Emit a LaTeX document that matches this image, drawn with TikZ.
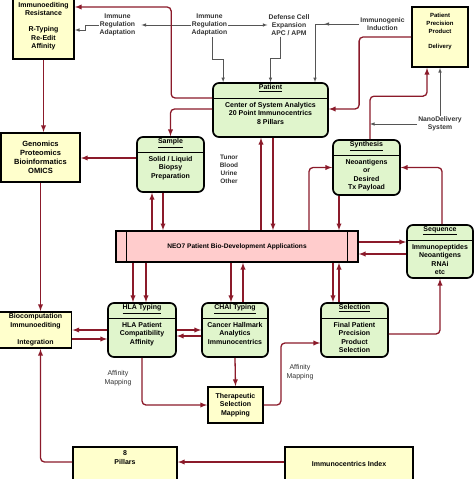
\documentclass[tikz,border=0pt]{standalone}
\usepackage{fontspec}
\setmainfont{Liberation Sans}
\usetikzlibrary{arrows,decorations.markings}

\definecolor{boxyellow}{HTML}{FFFFCC}
\definecolor{boxgreen}{HTML}{E0F5CC}
\definecolor{boxpink}{HTML}{FFCCCC}
\definecolor{darkred}{HTML}{8B1A2A}
\definecolor{linegray}{HTML}{555555}
\definecolor{textgray}{HTML}{333333}

\tikzset{
  ybox/.style={draw, line width=1.8pt, fill=boxyellow, align=center, inner sep=1pt, font=\bfseries\fontsize{7}{8.5}\selectfont},
  ytext/.style={anchor=center, align=center, inner sep=0pt, font=\bfseries\fontsize{7}{8.5}\selectfont},
  gbox/.style={draw, line width=1.7pt, fill=boxgreen, rounded corners=6pt,
    path picture={\draw[line width=0.6pt] ([yshift=-15pt]path picture bounding box.north west) -- ([yshift=-15pt]path picture bounding box.north east);}},
  boxhead/.style={anchor=north, yshift=-2.5pt, inner sep=0pt, font=\bfseries\fontsize{7}{8.5}\selectfont},
  boxbody/.style={anchor=north, yshift=-20pt, inner sep=0pt, align=center, font=\bfseries\fontsize{7}{8.5}\selectfont},
  glabel/.style={text=textgray, align=center, inner sep=1pt, font=\bfseries\fontsize{6.8}{8}\selectfont},
  alabel/.style={text=textgray, align=center, inner sep=1pt, font=\fontsize{7}{9}\selectfont},
  garrow/.style={-latex, draw=linegray, line width=0.6pt},
  rarrow/.style={-latex, draw=darkred, line width=1.3pt, rounded corners=4pt}
}

\begin{document}
\begin{tikzpicture}[x=1pt, y=-1pt]

\useasboundingbox (0,0) rectangle (474,479);

\node[ybox, minimum width=61pt, minimum height=66pt] (resist) at (43.5,26) {Immunoediting\\Resistance\\[7.5pt]R-Typing\\Re-Edit\\Affinity};
\node[ybox, minimum width=56pt, minimum height=60pt, label={[ytext, yshift=5.5pt, font=\bfseries\fontsize{6}{8}\selectfont]center:{Patient\\Precision\\Product\\[7pt]Delivery}}] (ppd) at (440,37) {};
\node[ybox, minimum width=79pt, minimum height=49pt, font=\bfseries\fontsize{7.5}{9}\selectfont] (omics) at (40.5,157.5) {Genomics\\Proteomics\\Bioinformatics\\OMICS};
\node[ybox, minimum width=72pt, minimum height=36pt, font=\bfseries\fontsize{7}{9}\selectfont] (biocomp) at (35.5,330) {Biocomputation\\Immunoediting\\[8pt]Integration};
\node[ybox, minimum width=55pt, minimum height=36pt] (therapy) at (235.5,405) {Therapeutic\\Selection\\Mapping};
\node[ybox, minimum width=104pt, minimum height=34pt, label={[ytext, yshift=6.5pt]center:{8\\Pillars}}] (pillars) at (125,464) {};
\node[ybox, minimum width=128pt, minimum height=34pt] (index) at (349,464) {Immunocentrics Index};

\node[gbox, minimum width=115pt, minimum height=54pt, label={[boxhead]north:{\underline{Patient}}}, label={[boxbody]north:{Center of System Analytics\\20 Point Immunocentrics\\8 Pillars}}] (patient) at (270.5,110) {};
\node[gbox, minimum width=67pt, minimum height=55pt, label={[boxhead]north:{\underline{Sample}}}, label={[boxbody]north:{Solid / Liquid\\Biopsy\\Preparation}}] (sample) at (170.5,164.5) {};
\node[gbox, minimum width=67pt, minimum height=55pt, label={[boxhead]north:{\underline{Synthesis}}}, label={[boxbody]north:{Neoantigens\\or\\Desired\\Tx Payload}}] (synthesis) at (366.5,167.5) {};
\node[gbox, minimum width=66pt, minimum height=53pt, label={[boxhead]north:{\underline{Sequence}}}, label={[boxbody]north:{Immunopeptides\\Neoantigens\\RNAi\\etc}}] (sequence) at (440,251.5) {};
\node[gbox, minimum width=68pt, minimum height=54pt, label={[boxhead]north:{\underline{HLA Typing}}}, label={[boxbody]north:{HLA Patient\\Compatibility\\Affinity}}] (hla) at (142,330) {};
\node[gbox, minimum width=66pt, minimum height=54pt, label={[boxhead]north:{\underline{CHAI Typing}}}, label={[boxbody]north:{Cancer Hallmark\\Analytics\\Immunocentrics}}] (chai) at (235,330) {};
\node[gbox, minimum width=67pt, minimum height=54pt, label={[boxhead]north:{\underline{Selection}}}, label={[boxbody]north:{Final Patient\\Precision\\Product\\Selection}}] (selection) at (354.5,330) {};

\node[draw, line width=1.6pt, fill=boxpink, minimum width=242pt, minimum height=31pt, font=\bfseries\fontsize{6.6}{8}\selectfont] (neo) at (237,246.5) {NEO7 Patient Bio-Development Applications};
\draw[line width=1.3pt] ([xshift=11pt]neo.north west) -- ([xshift=11pt]neo.south west);
\draw[line width=1.3pt] ([xshift=-11pt]neo.north east) -- ([xshift=-11pt]neo.south east);

\node[glabel] (ira1) at (117.5,25) {Immune\\Regulation\\Adaptation};
\node[glabel] (ira2) at (209.5,25) {Immune\\Regulation\\Adaptation};
\node[glabel] (defcell) at (289,25) {Defense Cell\\Expansion\\APC / APM};
\node[glabel] (imgind) at (382.5,24) {Immunogenic\\Induction};
\node[glabel] (nano) at (440,124) {NanoDelivery\\System};
\node[glabel, font=\bfseries\fontsize{6.5}{8}\selectfont] (tissue) at (229,169) {Tunor\\Blood\\Urine\\Other};
\node[alabel] (aff1) at (118,378.5) {Affinity\\Mapping};
\node[alabel] (aff2) at (300,372.5) {Affinity\\Mapping};

\draw[garrow, shorten >=5pt] (ira2.west) -- (ira1.east);
\draw[garrow] (ira2.east) -- (defcell.west);
\draw[garrow] (ira1.west) -- ++(-13,0) |- ([yshift=-4pt]resist.east);
\draw[garrow] ([xshift=2.5pt]ira2.south) -- ++(0,22) -| ([xshift=11pt]patient.north west);
\draw[garrow] ([xshift=-9pt]defcell.south) -- ++(0,22) -| (patient.north);
\draw[garrow, postaction={decorate}, decoration={markings, mark=at position 0.34 with {\arrow{latex}}}] (imgind.west) -| ([xshift=44.5pt]patient.north);
\draw[garrow] (nano.north) -- (ppd.south);
\draw[garrow] (nano.west) -- ([xshift=3.5pt]synthesis.north |- nano.west);

\draw[rarrow] ([yshift=12pt]patient.west) -- ++(-41,0) |- ([yshift=19pt]resist.east);
\draw[rarrow] ([yshift=1pt]patient.west) -| (sample.north);
\draw[rarrow] (resist.south) -- (resist.south |- omics.north);
\draw[rarrow] ([yshift=6.5pt]sample.west) -- ([yshift=6.5pt]sample.west -| omics.east);
\draw[rarrow] (omics.south) -- (omics.south |- biocomp.north);
\draw[rarrow] ([xshift=-18.5pt]sample.south |- neo.north) -- ([xshift=-18.5pt]sample.south);
\draw[rarrow] ([xshift=-7.5pt]sample.south) -- ([xshift=-7.5pt]sample.south |- neo.north);
\draw[rarrow] ([xshift=-9.5pt]patient.south |- neo.north) -- ([xshift=-9.5pt]patient.south);
\draw[rarrow] ([xshift=2.5pt]patient.south) -- ([xshift=2.5pt]patient.south |- neo.north);
\draw[rarrow] ([xshift=72pt]neo.north) |- (synthesis.west);
\draw[rarrow] ([xshift=-27.5pt]synthesis.south) -- ([xshift=-27.5pt]synthesis.south |- neo.north);
\draw[rarrow] ([xshift=2pt]sequence.north) |- (synthesis.east);
\draw[rarrow] ([yshift=4.5pt]neo.east) -- ([yshift=4.5pt]neo.east -| sequence.west);
\draw[rarrow] ([yshift=-7.5pt]neo.east -| sequence.west) -- ([yshift=-7.5pt]neo.east);
\draw[rarrow] ([xshift=3.5pt]synthesis.north) -- ++(0,-43) -| ([xshift=-13pt]ppd.south);
\draw[rarrow] (ppd.west) -- ++(-52,0) |- ([yshift=1pt]patient.east);
\draw[rarrow] ([xshift=-9pt]hla.north |- neo.south) -- ([xshift=-9pt]hla.north);
\draw[rarrow] ([xshift=4pt]neo.south -| hla.north) -- ([xshift=4pt]hla.north);
\draw[rarrow] ([xshift=-4pt]neo.south -| chai.north) -- ([xshift=-4pt]chai.north);
\draw[rarrow] ([xshift=8pt]chai.north) -- ([xshift=8pt]chai.north |- neo.south);
\draw[rarrow] ([xshift=-21.5pt]neo.south -| selection.north) -- ([xshift=-21.5pt]selection.north);
\draw[rarrow] ([xshift=-15.5pt]selection.north) -- ([xshift=-15.5pt]selection.north |- neo.south);
\draw[rarrow] (hla.west) -- (hla.west -| biocomp.east);
\draw[rarrow] ([yshift=-9pt]hla.west -| biocomp.east) -- ([yshift=-9pt]hla.west);
\draw[rarrow] (hla.east) -- (hla.east -| chai.west);
\draw[rarrow] ([yshift=-6pt]chai.west) -- ([yshift=-6pt]chai.west -| hla.east);
\draw[rarrow] (hla.south) |- (therapy.west);
\draw[rarrow] (chai.south) -- (therapy.north);
\draw[rarrow] (therapy.east) -- ++(17,0) |- ([yshift=-13pt]selection.west);
\draw[rarrow] ([yshift=-4pt]selection.east) -| (sequence.south);
\draw[rarrow] ([yshift=2pt]pillars.west) -| ([xshift=5pt]biocomp.south);
\draw[rarrow] ([yshift=2pt]index.west) -- ([yshift=2pt]index.west -| pillars.east);

\end{tikzpicture}
\end{document}
